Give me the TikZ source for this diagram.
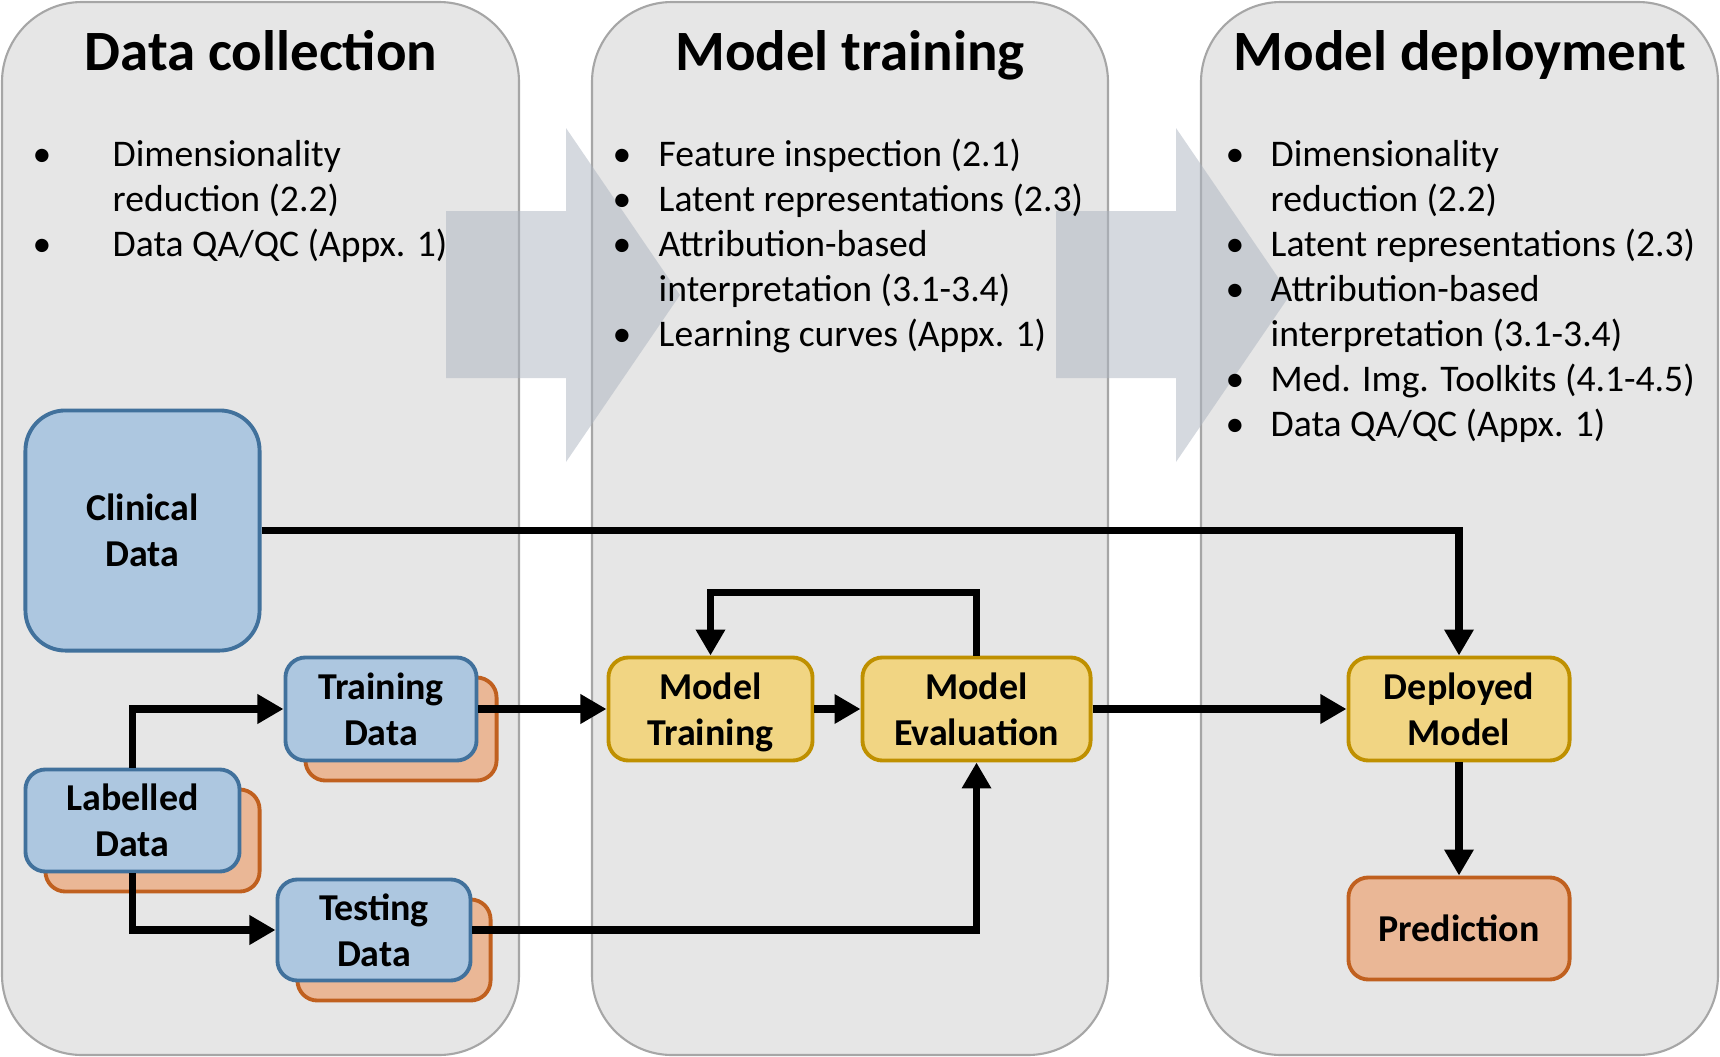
\documentclass[tikz,border=0pt]{standalone}
\usepackage{fontspec}
\setmainfont{Carlito}
\usepackage{xcolor}
\definecolor{cPanel}{HTML}{E6E6E6}
\definecolor{cPanelLine}{HTML}{A6A6A6}
\definecolor{cBlue}{HTML}{ADC7E0}
\definecolor{cBlueLine}{HTML}{41719C}
\definecolor{cGold}{HTML}{F1D583}
\definecolor{cGoldLine}{HTML}{BF9000}
\definecolor{cOrange}{HTML}{EAB796}
\definecolor{cOrangeLine}{HTML}{C0601F}
\definecolor{cFlow}{HTML}{ACB4C0}
\usetikzlibrary{positioning,arrows.meta,shadows}
\tikzset{
  panel/.style={draw=cPanelLine,line width=0.6pt,fill=cPanel,rounded corners=8mm},
  flow-arrow/.style={fill=cFlow,opacity=0.5},
  panel-title/.style={anchor=base,font=\fontsize{16.2}{19}\selectfont\bfseries},
  bullets/.style={anchor=base west,inner sep=0pt,align=left,
    font=\fontsize{10.7}{12.8}\selectfont},
  node-box/.style={line width=1.1pt,rounded corners=2mm,align=center,
    inner sep=0pt,text depth=0pt,font=\fontsize{10.8}{13}\selectfont\bfseries},
  node-data/.style={node-box,draw=cBlueLine,fill=cBlue},
  node-stack/.style={general shadow={shadow xshift=2mm,shadow yshift=-2mm,
    fill=cOrange,draw=cOrangeLine,line width=1.1pt}},
  node-model/.style={node-box,draw=cGoldLine,fill=cGold},
  node-pred/.style={node-box,draw=cOrangeLine,fill=cOrange},
  arrow/.style={-{Triangle[length=2.6mm,width=2.8mm]},line width=2.2pt},
}

\begin{document}
\begin{tikzpicture}[x=0.01cm,y=-0.01cm]
  \useasboundingbox (0,0) rectangle (1720,1057);
  % three stages
  \draw[panel] (2,2) rectangle (519,1055);
  \draw[panel] (592,2) rectangle (1108,1055);
  \draw[panel] (1201,2) rectangle (1718,1055);
  \foreach \dx in {0,610}
    \fill[flow-arrow] (446+\dx,211) -- (566+\dx,211) -- (566+\dx,128)
      -- (680+\dx,295) -- (566+\dx,462) -- (566+\dx,378) -- (446+\dx,378) -- cycle;
  \node[panel-title] (t-col) at (261,70) {Data collection};
  \node[panel-title] (t-trn) at (850,70) {Model training};
  \node[panel-title] (t-dep) at (1460,70) {Model deployment};
  \node[bullets] (l-col) at (32,166) {\begin{tabular}[t]{@{}p{8mm}@{}l@{}}
    \textbullet & Dimensionality\\
                & reduction (2.2)\\
    \textbullet & Data QA/QC (Appx. 1)
  \end{tabular}};
  \node[bullets] (l-trn) at (612,166) {\begin{tabular}[t]{@{}p{4.6mm}@{}l@{}}
    \textbullet & Feature inspection (2.1)\\
    \textbullet & Latent representations (2.3)\\
    \textbullet & Attribution-based\\
                & interpretation (3.1-3.4)\\
    \textbullet & Learning curves (Appx. 1)
  \end{tabular}};
  \node[bullets] (l-dep) at (1225,166) {\begin{tabular}[t]{@{}p{4.5mm}@{}l@{}}
    \textbullet & Dimensionality\\
                & reduction (2.2)\\
    \textbullet & Latent representations (2.3)\\
    \textbullet & Attribution-based\\
                & interpretation (3.1-3.4)\\
    \textbullet & Med. Img. Toolkits (4.1-4.5)\\
    \textbullet & Data QA/QC (Appx. 1)
  \end{tabular}};
  % boxes
  \node[node-data,rounded corners=4mm,minimum width=23.4mm,minimum height=24mm]
    (clin) at (142.5,530.5) {Clinical\\Data};
  \node[node-data,node-stack,minimum width=19.1mm,minimum height=10.3mm]
    (trn) at (381,709) {Training\\Data};
  \node[node-data,node-stack,minimum width=21.4mm,minimum height=10.2mm]
    (lab) at (132.5,820.5) {Labelled\\Data};
  \node[node-data,node-stack,minimum width=19.3mm,minimum height=10.1mm]
    (tst) at (374,930) {Testing\\Data};
  \node[node-model,minimum width=20.4mm,minimum height=10.3mm]
    (mtr) at (710.5,709) {Model\\Training};
  \node[node-model,minimum width=22.8mm,minimum height=10.3mm,right=4.6mm of mtr]
    (mev) {Model\\Evaluation};
  \node[node-model,minimum width=22.1mm,minimum height=10.3mm]
    (dep) at (1459,709) {Deployed\\Model};
  \node[node-pred,minimum width=22.1mm,minimum height=10.2mm,below=11.3mm of dep]
    (pred) {Prediction};
  % connectors
  \draw[arrow] (clin.east) -| (dep.north);
  \draw[arrow] (lab.north) |- (trn.west);
  \draw[arrow] (lab.south) |- (tst.west);
  \draw[arrow] (trn.east) -- (mtr.west);
  \draw[arrow] (mtr.east) -- (mev.west);
  \draw[arrow] (mev.north) -- ++(0,-63) -| (mtr.north);
  \draw[arrow] (tst.east) -| (mev.south);
  \draw[arrow] (mev.east) -- (dep.west);
  \draw[arrow] (dep.south) -- (pred.north);
\end{tikzpicture}
\end{document}
